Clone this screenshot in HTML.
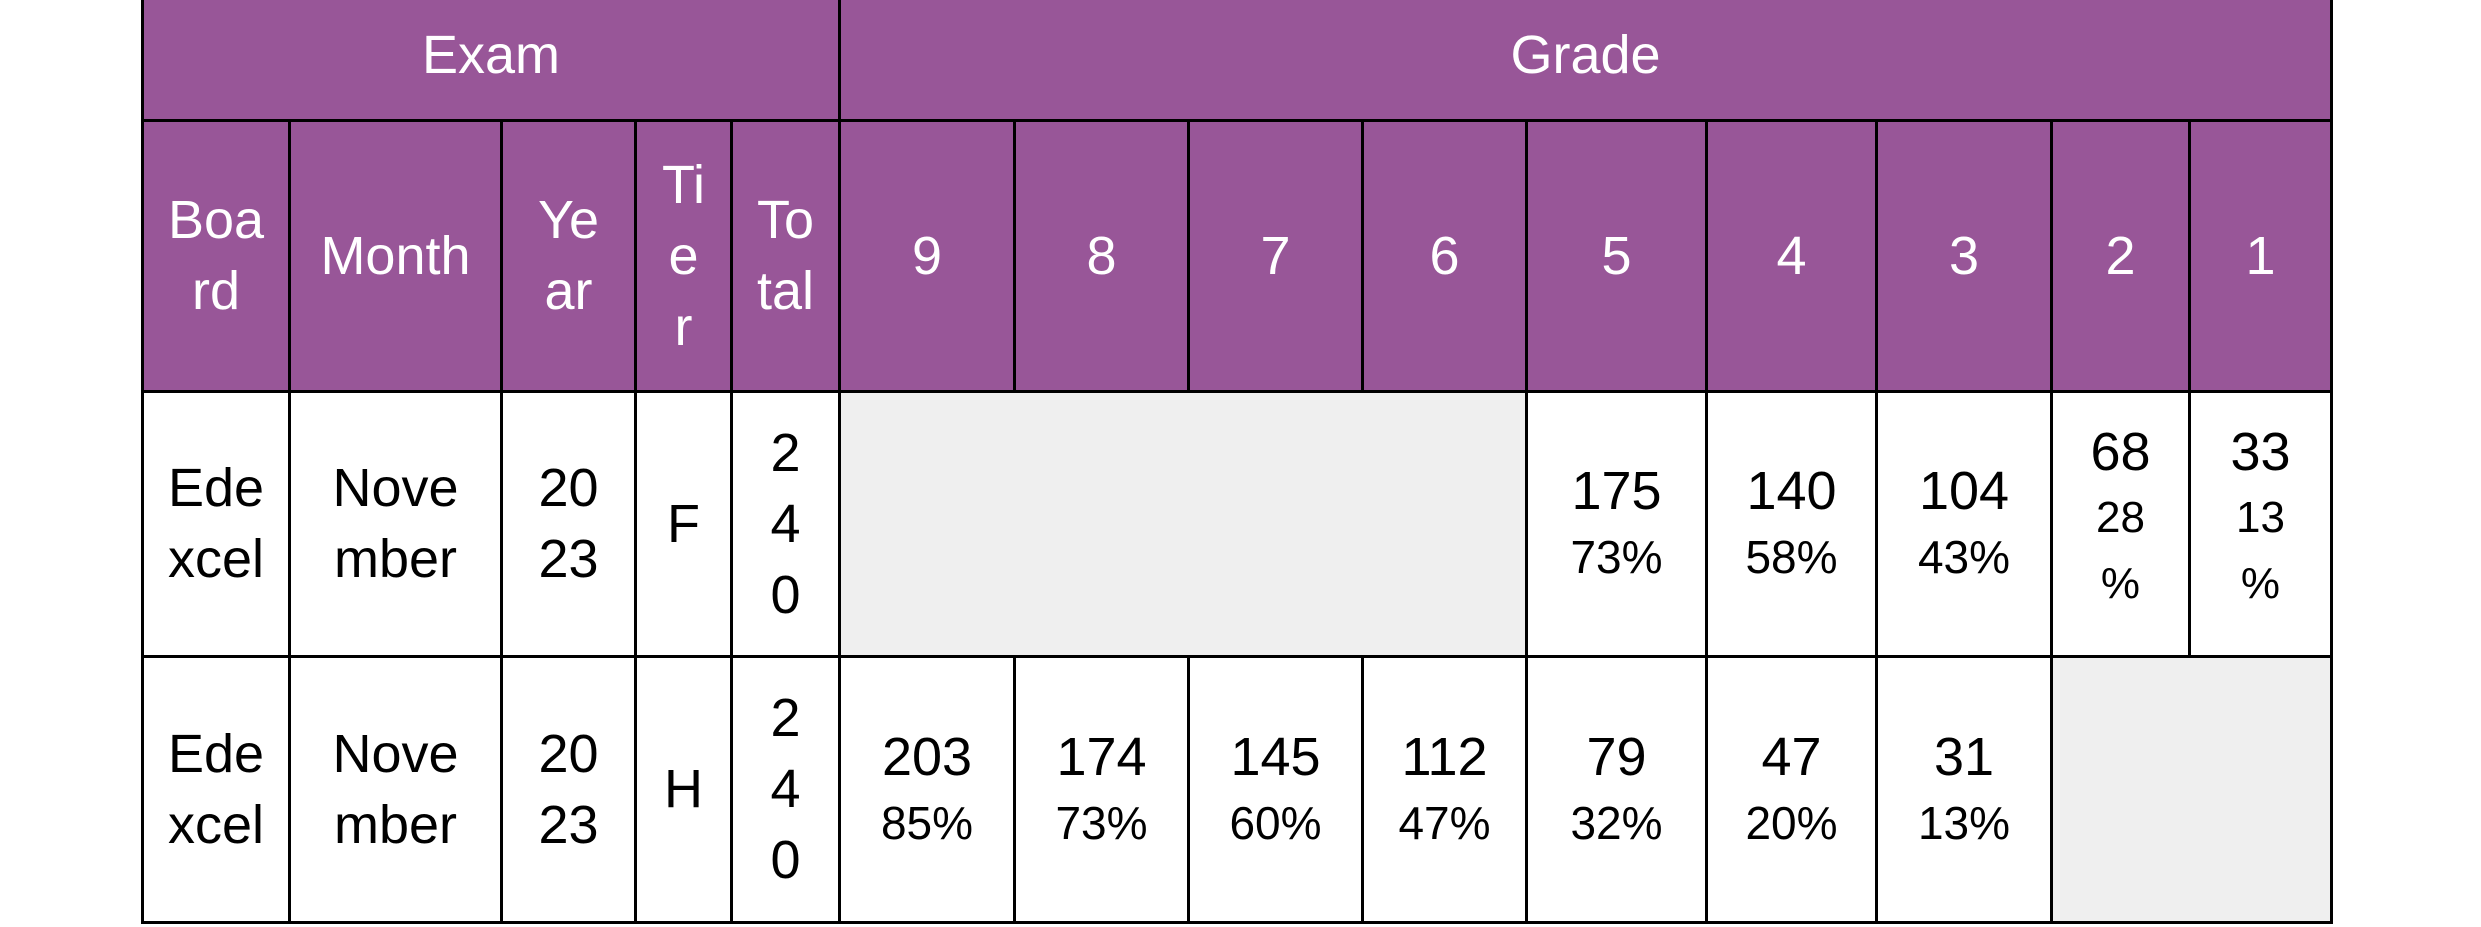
<!DOCTYPE html>
<html><head><meta charset="utf-8"><style>
html,body{margin:0;padding:0;background:#fff;}
body{width:2481px;height:927px;position:relative;overflow:hidden;font-family:"Liberation Sans",Arial,sans-serif;}
.c{position:absolute;box-sizing:border-box;border:3px solid #000;display:flex;align-items:center;justify-content:center;text-align:center;font-size:54px;line-height:71px;color:#000;background:#fff;}
.c>div{display:block;}
.h{background:#985698;color:#fff;}
.g{background:#efefef;}
.p{line-height:64px;}
.p small{font-size:46px;}
.s{line-height:62px;}
.s small{font-size:44px;}
</style></head><body>
<div class="c h" style="left:141px;top:-4px;width:700px;height:126px;padding-bottom:8px"><div>Exam</div></div>
<div class="c h" style="left:838px;top:-4px;width:1495px;height:126px;padding-bottom:8px"><div>Grade</div></div>
<div class="c h" style="left:141px;top:119px;width:150px;height:274px"><div>Boa<br>rd</div></div>
<div class="c h" style="left:288px;top:119px;width:215px;height:274px"><div>Month</div></div>
<div class="c h" style="left:500px;top:119px;width:137px;height:274px"><div>Ye<br>ar</div></div>
<div class="c h" style="left:634px;top:119px;width:99px;height:274px"><div>Ti<br>e<br>r</div></div>
<div class="c h" style="left:730px;top:119px;width:111px;height:274px"><div>To<br>tal</div></div>
<div class="c h" style="left:838px;top:119px;width:178px;height:274px"><div>9</div></div>
<div class="c h" style="left:1013px;top:119px;width:177px;height:274px"><div>8</div></div>
<div class="c h" style="left:1187px;top:119px;width:177px;height:274px"><div>7</div></div>
<div class="c h" style="left:1361px;top:119px;width:167px;height:274px"><div>6</div></div>
<div class="c h" style="left:1525px;top:119px;width:183px;height:274px"><div>5</div></div>
<div class="c h" style="left:1705px;top:119px;width:173px;height:274px"><div>4</div></div>
<div class="c h" style="left:1875px;top:119px;width:178px;height:274px"><div>3</div></div>
<div class="c h" style="left:2050px;top:119px;width:141px;height:274px"><div>2</div></div>
<div class="c h" style="left:2188px;top:119px;width:145px;height:274px"><div>1</div></div>
<div class="c" style="left:141px;top:390px;width:150px;height:268px"><div>Ede<br>xcel</div></div>
<div class="c" style="left:288px;top:390px;width:215px;height:268px"><div>Nove<br>mber</div></div>
<div class="c" style="left:500px;top:390px;width:137px;height:268px"><div>20<br>23</div></div>
<div class="c" style="left:634px;top:390px;width:99px;height:268px"><div>F</div></div>
<div class="c" style="left:730px;top:390px;width:111px;height:268px"><div>2<br>4<br>0</div></div>
<div class="c g" style="left:838px;top:390px;width:690px;height:268px"></div>
<div class="c p" style="left:1525px;top:390px;width:183px;height:268px"><div>175<br><small>73%</small></div></div>
<div class="c p" style="left:1705px;top:390px;width:173px;height:268px"><div>140<br><small>58%</small></div></div>
<div class="c p" style="left:1875px;top:390px;width:178px;height:268px"><div>104<br><small>43%</small></div></div>
<div class="c s" style="left:2050px;top:390px;width:141px;height:268px;padding-bottom:12px"><div>68<br><small>28<br>%</small></div></div>
<div class="c s" style="left:2188px;top:390px;width:145px;height:268px;padding-bottom:12px"><div>33<br><small>13<br>%</small></div></div>
<div class="c" style="left:141px;top:655px;width:150px;height:269px"><div>Ede<br>xcel</div></div>
<div class="c" style="left:288px;top:655px;width:215px;height:269px"><div>Nove<br>mber</div></div>
<div class="c" style="left:500px;top:655px;width:137px;height:269px"><div>20<br>23</div></div>
<div class="c" style="left:634px;top:655px;width:99px;height:269px"><div>H</div></div>
<div class="c" style="left:730px;top:655px;width:111px;height:269px"><div>2<br>4<br>0</div></div>
<div class="c p" style="left:838px;top:655px;width:178px;height:269px"><div>203<br><small>85%</small></div></div>
<div class="c p" style="left:1013px;top:655px;width:177px;height:269px"><div>174<br><small>73%</small></div></div>
<div class="c p" style="left:1187px;top:655px;width:177px;height:269px"><div>145<br><small>60%</small></div></div>
<div class="c p" style="left:1361px;top:655px;width:167px;height:269px"><div>112<br><small>47%</small></div></div>
<div class="c p" style="left:1525px;top:655px;width:183px;height:269px"><div>79<br><small>32%</small></div></div>
<div class="c p" style="left:1705px;top:655px;width:173px;height:269px"><div>47<br><small>20%</small></div></div>
<div class="c p" style="left:1875px;top:655px;width:178px;height:269px"><div>31<br><small>13%</small></div></div>
<div class="c g" style="left:2050px;top:655px;width:283px;height:269px"></div>
</body></html>
